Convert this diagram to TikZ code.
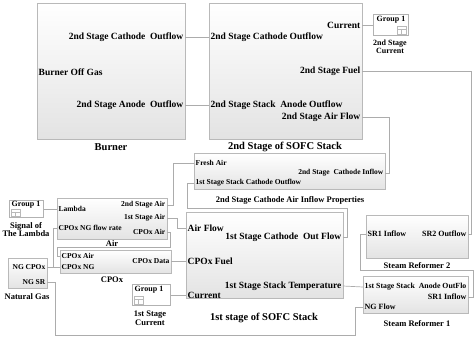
\documentclass[tikz,border=0pt]{standalone}
\usepackage{fontspec}
\setmainfont{Liberation Serif}
\newcommand\myfs[1]{\fontsize{#1}{#1}\selectfont\bfseries}
\tikzset{
  blk/.style={draw=gray!55, line width=0.7pt, top color=white, bottom color=gray!22, anchor=north west, inner sep=0pt},
  grp/.style={draw=gray!60, line width=0.6pt, fill=white, anchor=north west, inner sep=0pt},
  prt/.style={inner sep=1.5pt, font=\myfs{9.5}},
  prs/.style={inner sep=1.5pt, font=\myfs{7.5}},
  prm/.style={inner sep=1.5pt, font=\myfs{8}},
  lbl/.style={inner sep=0pt, font=\myfs{10.5}},
  lbs/.style={inner sep=0pt, font=\myfs{8.5}, align=center},
  gtxt/.style={inner sep=0pt, font=\myfs{8}},
  wire/.style={draw=gray!65, line width=0.7pt},
  icon/.style={draw=gray!55, line width=0.4pt}
}
\begin{document}
\begin{tikzpicture}[x=1pt,y=-1pt]
\useasboundingbox (0,0) rectangle (474,337);

% ---------- Burner ----------
\node[blk, minimum width=148pt, minimum height=136pt] (burner) at (37,3) {};
\node[lbl] (burnerl) at (111,147) {Burner};
\node[prt, anchor=east] (bco) at (185,37) {2nd Stage Cathode\ \ Outflow};
\node[prt, anchor=west] (boff) at (37,72) {Burner Off Gas};
\node[prt, anchor=east] (bao) at (185,105) {2nd Stage Anode\ \ Outflow};

% ---------- 2nd stage SOFC ----------
\node[blk, minimum width=153pt, minimum height=136pt] (sofc2) at (209,3) {};
\node[lbl] (sofc2l) at (285,147) {2nd Stage of SOFC Stack};
\node[prt, anchor=east] (s2cur) at (362,25) {Current};
\node[prt, anchor=west] (s2co) at (209,37) {2nd Stage Cathode Outflow};
\node[prt, anchor=east] (s2fuel) at (362,71) {2nd Stage Fuel};
\node[prt, anchor=west] (s2ao) at (209,105) {2nd Stage Stack\ \ Anode Outflow};
\node[prt, anchor=east] (s2air) at (362,117) {2nd Stage Air Flow};

% group 2nd stage current
\node[grp, minimum width=35pt, minimum height=21pt] (g2) at (373,14) {};
\node[gtxt] (g2t) at (391,20) {Group 1};
\draw[icon] (397,26) rectangle (406,34) (397,29) -- (406,29) (401,29) -- (401,34);
\node[lbs, font=\myfs{8}] (g2l) at (390,47) {2nd Stage\\Current};

% ---------- cathode air inflow properties ----------
\node[blk, minimum width=191pt, minimum height=36pt] (caip) at (194,153) {};
\node[lbs] (caipl) at (290,200) {2nd Stage Cathode Air Inflow Properties};
\node[prs, anchor=west] (cfresh) at (194,163) {Fresh Air};
\node[prs, anchor=east] (cin) at (385,173) {2nd Stage\ \ Cathode Inflow};
\node[prs, anchor=west] (cout) at (194,183) {1st Stage Stack Cathode Outflow};

% ---------- 1st stage SOFC ----------
\node[blk, minimum width=157pt, minimum height=86pt] (sofc1) at (186,212) {};
\node[lbl] (sofc1l) at (264,318) {1st stage of SOFC Stack};
\node[prt, anchor=west] (s1air) at (186,228) {Air Flow};
\node[prt, anchor=east] (s1out) at (343,237) {1st Stage Cathode\ \ Out Flow};
\node[prt, anchor=west] (s1fuel) at (186,261) {CPOx Fuel};
\node[prt, anchor=east] (s1temp) at (343,286) {1st Stage Stack Temperature};
\node[prt, anchor=west] (s1cur) at (186,295) {Current};

% group 1st stage current
\node[grp, minimum width=38pt, minimum height=21pt] (g1) at (132,284) {};
\node[gtxt] (g1t) at (149,290) {Group 1};
\draw[icon] (134,296) rectangle (143,304) (134,299) -- (143,299) (138,299) -- (138,304);
\node[lbs] (g1l) at (150,318) {1st Stage\\Current};

% ---------- Air block ----------
\node[blk, minimum width=110pt, minimum height=41pt] (air) at (57,198) {};
\node[lbs] (airl) at (112,244) {Air};
\node[prs, anchor=west] (alam) at (57,209) {Lambda};
\node[prs, anchor=east] (a2nd) at (167,205) {2nd Stage Air};
\node[prs, anchor=east] (a1st) at (167,218) {1st Stage Air};
\node[prs, anchor=west] (angfr) at (57,228) {CPOx NG flow rate};
\node[prs, anchor=east] (acair) at (167,232) {CPOx Air};

% group lambda
\node[grp, minimum width=34pt, minimum height=17pt] (gl) at (9,200) {};
\node[gtxt] (glt) at (26,205) {Group 1};
\draw[icon] (11,209) rectangle (20,216) (11,212) -- (20,212) (15,212) -- (15,216);
\node[lbs] (gll) at (26,229.5) {Signal of\\The Lambda};

% ---------- CPOx block ----------
\node[blk, minimum width=111pt, minimum height=23pt] (cpox) at (60,250) {};
\node[lbs] (cpoxl) at (112,280) {CPOx};
\node[prs, anchor=west] (pair) at (60,256) {CPOx Air};
\node[prs, anchor=west] (png) at (60,267) {CPOx NG};
\node[prs, anchor=east] (pdata) at (171,261) {CPOx Data};

% ---------- Natural gas ----------
\node[blk, minimum width=39pt, minimum height=30pt] (ng) at (8,258) {};
\node[lbs] (ngl) at (27,297) {Natural Gas};
\node[prs, anchor=east] (ncpox) at (47,267) {NG CPOx};
\node[prs, anchor=east] (nsr) at (47,282) {NG SR};

% ---------- Steam reformer 2 ----------
\node[blk, minimum width=102pt, minimum height=43pt] (sr2) at (366,215) {};
\node[lbs] (sr2l) at (417,266) {Steam Reformer 2};
\node[prm, anchor=west] (r2in) at (366,234) {SR1 Inflow};
\node[prm, anchor=east] (r2out) at (468,234) {SR2 Outflow};

% ---------- Steam reformer 1 ----------
\node[blk, minimum width=105pt, minimum height=37pt] (sr1) at (363,276) {};
\node[lbs] (sr1l) at (417,324) {Steam Reformer 1};
\node[prs, font=\myfs{7.8}, anchor=west] (r1an) at (363,287) {1st Stage Stack\ \ Anode OutFlo};
\node[prm, anchor=east] (r1in) at (468,297) {SR1 Inflow};
\node[prm, anchor=west] (r1ng) at (363,307) {NG Flow};

% ---------- bend points ----------
\coordinate (k1) at (471,234);
\coordinate (k2) at (389,173);
\coordinate (k3) at (173,163);
\coordinate (k4) at (177,228);
\coordinate (k5a) at (170,247);
\coordinate (k5b) at (57,256);
\coordinate (k6) at (53,267);
\coordinate (k7) at (187,208);
\coordinate (k8) at (347,237);
\coordinate (k9) at (55,335);
\coordinate (k10) at (355,307);
\coordinate (k11) at (473,270);
\coordinate (k12) at (360,234);

% ---------- connectors ----------
\draw[wire] (bco.east) -- (s2co.west);
\draw[wire] (bao.east) -- (s2ao.west);
\draw[wire] (s2cur.east) -- (s2cur.east -| g2.west);
\draw[wire] (s2fuel.east) -| (k1) -- (r2out.east);
\draw[wire] (s2air.east) -| (k2) -- (cin.east);
\draw[wire] (a2nd.east) -| (k3) -- (cfresh.west);
\draw[wire] (a1st.east) -| (k4) -- (s1air.west);
\draw[wire] (acair.east) -| (k5a) -| (k5b) -- (pair.west);
\draw[wire] (ncpox.east) -- (png.west);
\draw[wire] (angfr.west) -| (k6);
\draw[wire] (alam.west -| gl.east) -- (alam.west);
\draw[wire] (pdata.east) -- (s1fuel.west);
\draw[wire] (s1cur.west -| g1.east) -- (s1cur.west);
\draw[wire] (cout.west) -| (k7) -| (k8) -- (s1out.east);
\draw[wire] (s1temp.east) -- (r1an.west);
\draw[wire] (nsr.east) -| (k9) -| (k10) -- (r1ng.west);
\draw[wire] (r1in.east) -| (k11) -| (k12) -- (r2in.west);
\end{tikzpicture}
\end{document}
